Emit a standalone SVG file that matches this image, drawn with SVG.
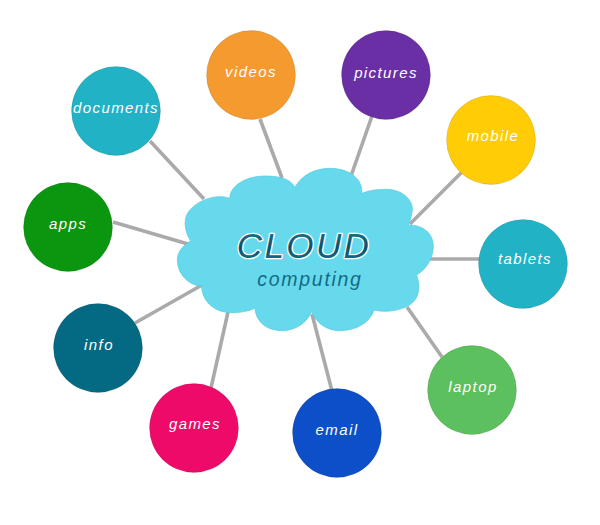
<svg xmlns="http://www.w3.org/2000/svg" width="600" height="525" viewBox="0 0 600 525">
<defs>
<linearGradient id="cg" x1="0" y1="0" x2="0" y2="1"><stop offset="0" stop-color="#1f7f99"/><stop offset=".55" stop-color="#0b4f68"/><stop offset="1" stop-color="#1a7690"/></linearGradient>
</defs>
<style>
.c{stroke-opacity:.18;stroke:#000;stroke-width:.6}
.l{font-family:"Liberation Sans",Arial,sans-serif;font-style:italic;font-size:15px;letter-spacing:1.4px;fill:#fff;text-anchor:middle}
#connectors line{stroke:#aaa;stroke-width:3.6}
</style>
<rect width="600" height="525" fill="#fff"/>
<g id="connectors">
<line x1="150" y1="141" x2="204" y2="199"/>
<line x1="113" y1="222" x2="188" y2="244"/>
<line x1="135" y1="323" x2="202" y2="285"/>
<line x1="211" y1="388" x2="228" y2="312"/>
<line x1="332" y1="391" x2="312" y2="314"/>
<line x1="442" y1="357" x2="407" y2="307"/>
<line x1="480" y1="259" x2="430" y2="259"/>
<line x1="464" y1="170" x2="410" y2="224"/>
<line x1="372" y1="116" x2="351" y2="176"/>
<line x1="260" y1="119" x2="282" y2="178"/>
</g>
<g id="cloud">
<path transform="translate(170 160) scale(.3333)" fill="#66daec" stroke="#55c8dc" stroke-width="2" d="M375 82C395 45 435 25 480 25C535 25 580 55 575 100C600 90 625 88 650 88C695 88 730 120 727 150C725 170 720 185 715 195C760 195 790 220 790 258C790 300 765 330 740 345C755 390 745 425 705 442C675 455 640 457 612 450C600 490 555 512 510 512C470 512 440 490 425 455C410 490 375 512 335 512C295 512 258 490 255 445C240 452 215 458 190 458C130 460 95 420 95 378C60 378 22 345 22 300C22 275 40 255 62 243C40 210 40 170 60 150C85 120 140 100 180 115C178 80 225 48 285 48C325 48 360 55 375 82Z"/>
<text x="304" y="258" font-family="'Liberation Sans',Arial,sans-serif" font-style="italic" font-size="35" letter-spacing="2.4" text-anchor="middle" fill="url(#cg)" stroke="#fff" stroke-width="2.6" stroke-linejoin="round" paint-order="stroke">CLOUD</text>
<text x="310" y="286" font-family="'Liberation Sans',Arial,sans-serif" font-style="italic" font-size="19.5" letter-spacing="1.7" text-anchor="middle" fill="#146a84">computing</text>
</g>
<g id="documents"><circle class="c" cx="116" cy="111" r="44.5" fill="#22b2c6"/><text class="l" x="116" y="113">documents</text></g>
<g id="apps"><circle class="c" cx="68" cy="227" r="44.5" fill="#0a960e"/><text class="l" x="68" y="229">apps</text></g>
<g id="info"><circle class="c" cx="98" cy="348" r="44.5" fill="#046a84"/><text class="l" x="99" y="350">info</text></g>
<g id="games"><circle class="c" cx="194" cy="428" r="44.5" fill="#ee0a68"/><text class="l" x="195" y="429">games</text></g>
<g id="email"><circle class="c" cx="337" cy="433" r="44.5" fill="#0c4fc8"/><text class="l" x="337" y="435">email</text></g>
<g id="laptop"><circle class="c" cx="472" cy="390" r="44.5" fill="#5cc05e"/><text class="l" x="473" y="392">laptop</text></g>
<g id="tablets"><circle class="c" cx="523" cy="264" r="44.5" fill="#22b2c6"/><text class="l" x="525" y="264">tablets</text></g>
<g id="mobile"><circle class="c" cx="491" cy="140" r="44.5" fill="#ffcc05"/><text class="l" x="493" y="141">mobile</text></g>
<g id="pictures"><circle class="c" cx="386" cy="75" r="44.5" fill="#6a2fa5"/><text class="l" x="386" y="78">pictures</text></g>
<g id="videos"><circle class="c" cx="251" cy="75" r="44.5" fill="#f59a2e"/><text class="l" x="251" y="77">videos</text></g>
</svg>
